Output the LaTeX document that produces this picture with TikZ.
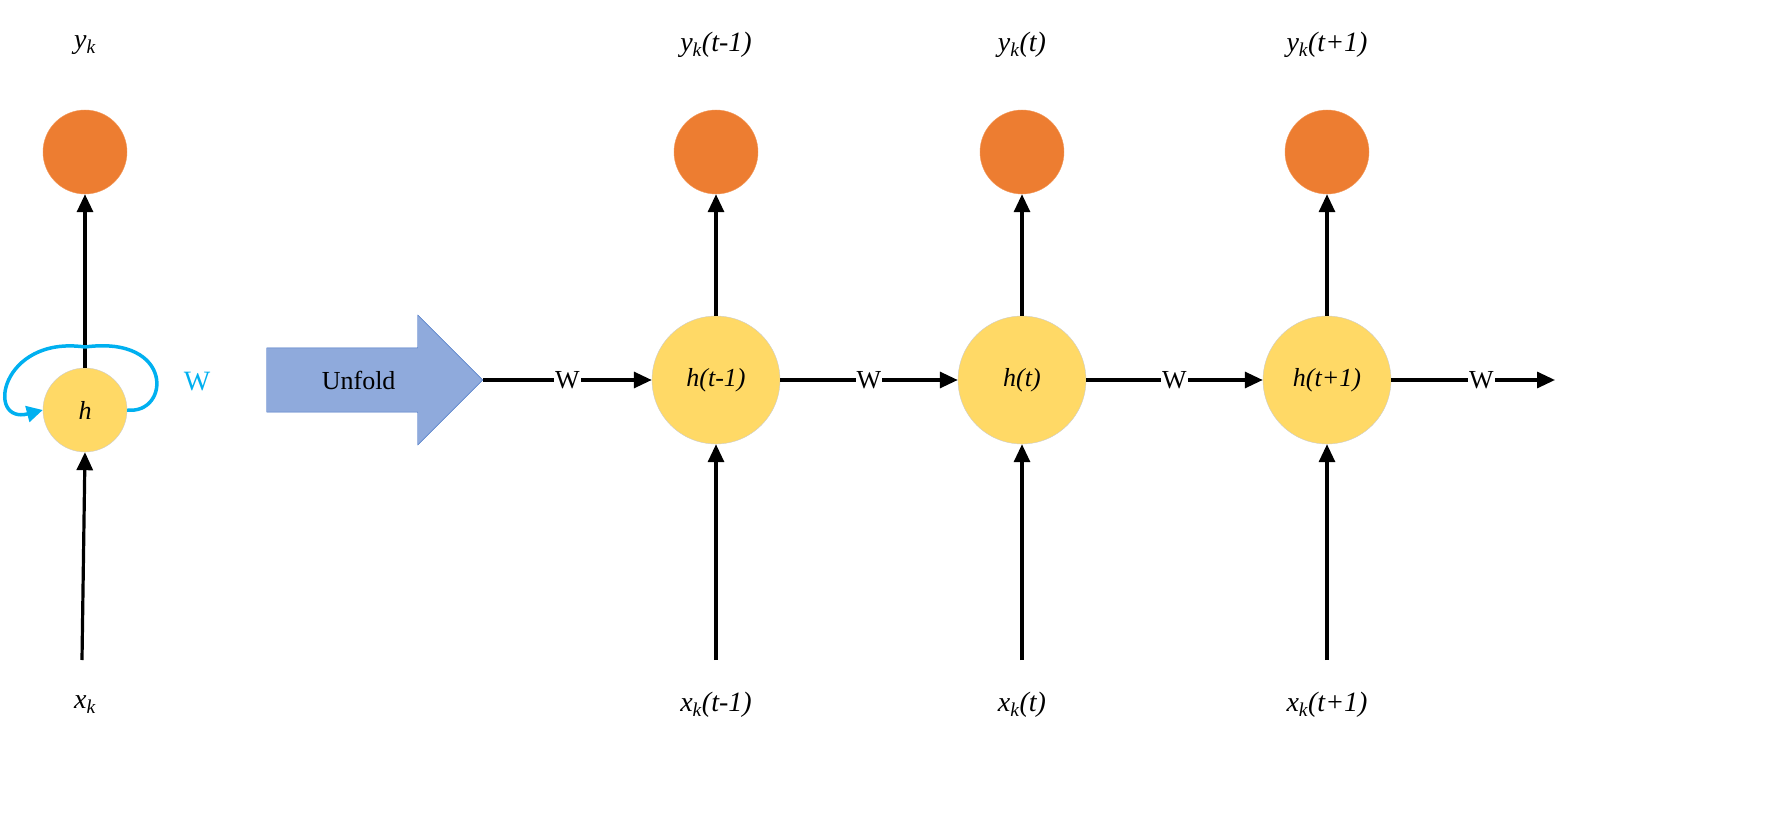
\documentclass[tikz,border=0pt]{standalone}
\usepackage{fontspec}
\setmainfont{Liberation Serif}
\usetikzlibrary{arrows.meta,shapes.arrows}
\definecolor{org}{HTML}{ED7D31}
\definecolor{yel}{HTML}{FFD966}
\definecolor{lblue}{HTML}{00B0F0}
\definecolor{ufill}{HTML}{8FAADC}
\definecolor{uedge}{HTML}{4472C4}
\tikzset{
 outc/.style={circle,fill=org,draw=org!80!white,minimum size=84pt,inner sep=0},
 hid/.style={circle,fill=yel,draw=gray!40,minimum size=128pt,inner sep=0,font=\fontsize{26}{26}\selectfont\itshape},
 lab/.style={font=\fontsize{28}{28}\selectfont\itshape},
 wl/.style={fill=white,inner sep=1pt,font=\fontsize{26}{26}\selectfont},
 arr/.style={line width=3.2pt,-{Triangle[length=18pt,width=16pt]}}
}
\begin{document}
\begin{tikzpicture}[x=1pt,y=-1pt]
\useasboundingbox (0,0) rectangle (1792,837);
% folded
\node[outc] (o0) at (85,152) {};
\node[hid,minimum size=84pt] (h0) at (85,410) {h};
\node[lab] (y0) at (85,45) {y\textsubscript{k}};
\node[lab] (x0) at (85,705) {x\textsubscript{k}};
\coordinate (s0) at (82,660);
\coordinate (lp) at (85,347);
\draw[arr] (h0.north) -- (o0.south);
\draw[arr] (s0) -- (h0.south);
\draw[lblue,line width=3.5pt,-{Triangle[length=16pt,width=16pt]}] (lp) .. controls (0,335) and (-15,425) .. (h0.west);
\draw[lblue,line width=3.5pt] (lp) .. controls (175,335) and (170,415) .. (h0.east);
\node[text=lblue,font=\fontsize{28}{28}\selectfont] (w0) at (197,382) {W};
% unfold
\node[single arrow,fill=ufill,draw=uedge,minimum height=216pt,minimum width=130pt,single arrow head extend=22pt,single arrow tip angle=90,inner sep=12pt,anchor=tip,font=\fontsize{26}{26}\selectfont] (uf) at (483,380) {Unfold\hspace{50pt}};
% unfolded
\foreach \n/\x/\t in {1/716/t-1,2/1022/t,3/1327/t+1}{
 \node[outc] (o\n) at (\x,152) {};
 \node[hid] (h\n) at (\x,380) {h(\t)};
 \node[lab] (y\n) at (\x,45) {y\textsubscript{k}(\t)};
 \node[lab] (x\n) at (\x,705) {x\textsubscript{k}(\t)};
 \coordinate (s\n) at (\x,660);
 \draw[arr] (h\n.north) -- (o\n.south);
 \draw[arr] (s\n) -- (h\n.south);
}
\coordinate (end) at (1555,380);
\draw[arr] (uf.tip) -- node[wl,pos=0.5] {W} (h1.west);
\draw[arr] (h1.east) -- node[wl] {W} (h2.west);
\draw[arr] (h2.east) -- node[wl] {W} (h3.west);
\draw[arr] (h3.east) -- node[wl,pos=0.55] {W} (end);
\end{tikzpicture}
\end{document}
